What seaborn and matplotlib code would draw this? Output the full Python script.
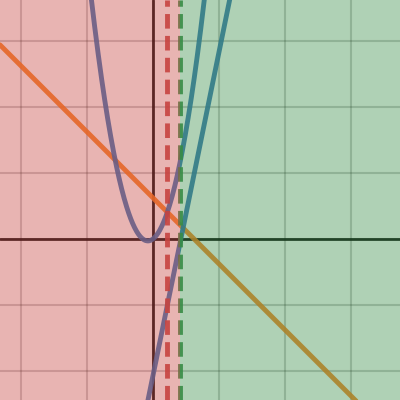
import numpy as np
import matplotlib
matplotlib.use("Agg")
import matplotlib.pyplot as plt
import seaborn as sns

sns.set_theme(style="white")

# data
x_split = 0.41          # boundary between red and green regions
x_red_dash = 0.21
parab_a, parab_h, parab_k = 5.0, -0.08, -0.03
line_slope, line_root = 4.9, 0.42
orange_slope, orange_icpt = -1.0, 0.62
xlim = (-2.32, 3.74)
ylim = (-2.44, 3.62)

fig = plt.figure(figsize=(4, 4), dpi=100)
ax = fig.add_axes([0, 0, 1, 1])
ax.set_xlim(*xlim); ax.set_ylim(*ylim)
for g in range(-3, 5):
    ax.axvline(g, color="black", alpha=0.2, lw=1.5, zorder=1)
    ax.axhline(g, color="black", alpha=0.2, lw=1.5, zorder=1)
ax.axvline(0, color="black", alpha=0.9, lw=2, zorder=2)
ax.axhline(0, color="black", alpha=0.9, lw=2, zorder=2)

xs = np.linspace(xlim[0], xlim[1], 800)
sns.lineplot(x=xs, y=orange_slope * xs + orange_icpt, color="#fa7e19", alpha=0.9, lw=3.5, ax=ax, zorder=3)
sns.lineplot(x=xs, y=parab_a * (xs - parab_h) ** 2 + parab_k, color="#2d70b3", alpha=0.9, lw=3.5, ax=ax, zorder=3)
sns.lineplot(x=xs, y=line_slope * (xs - line_root), color="#2d70b3", alpha=0.9, lw=3.5, ax=ax, zorder=3)
ax.axvline(x_red_dash, color="#c74440", alpha=0.9, lw=3.5, ls=(0, (3, 1.5)), zorder=4)
ax.axvline(x_split, color="#388c46", alpha=0.9, lw=3.5, ls=(0, (3, 1.5)), zorder=4)
ax.axvspan(xlim[0], x_split, color="#c74440", alpha=0.4, lw=0, zorder=5)
ax.axvspan(x_split, xlim[1], color="#388c46", alpha=0.4, lw=0, zorder=5)

ax.set_xticks([]); ax.set_yticks([])
for s in ax.spines.values():
    s.set_visible(False)
fig.savefig("out.png", dpi=100)
